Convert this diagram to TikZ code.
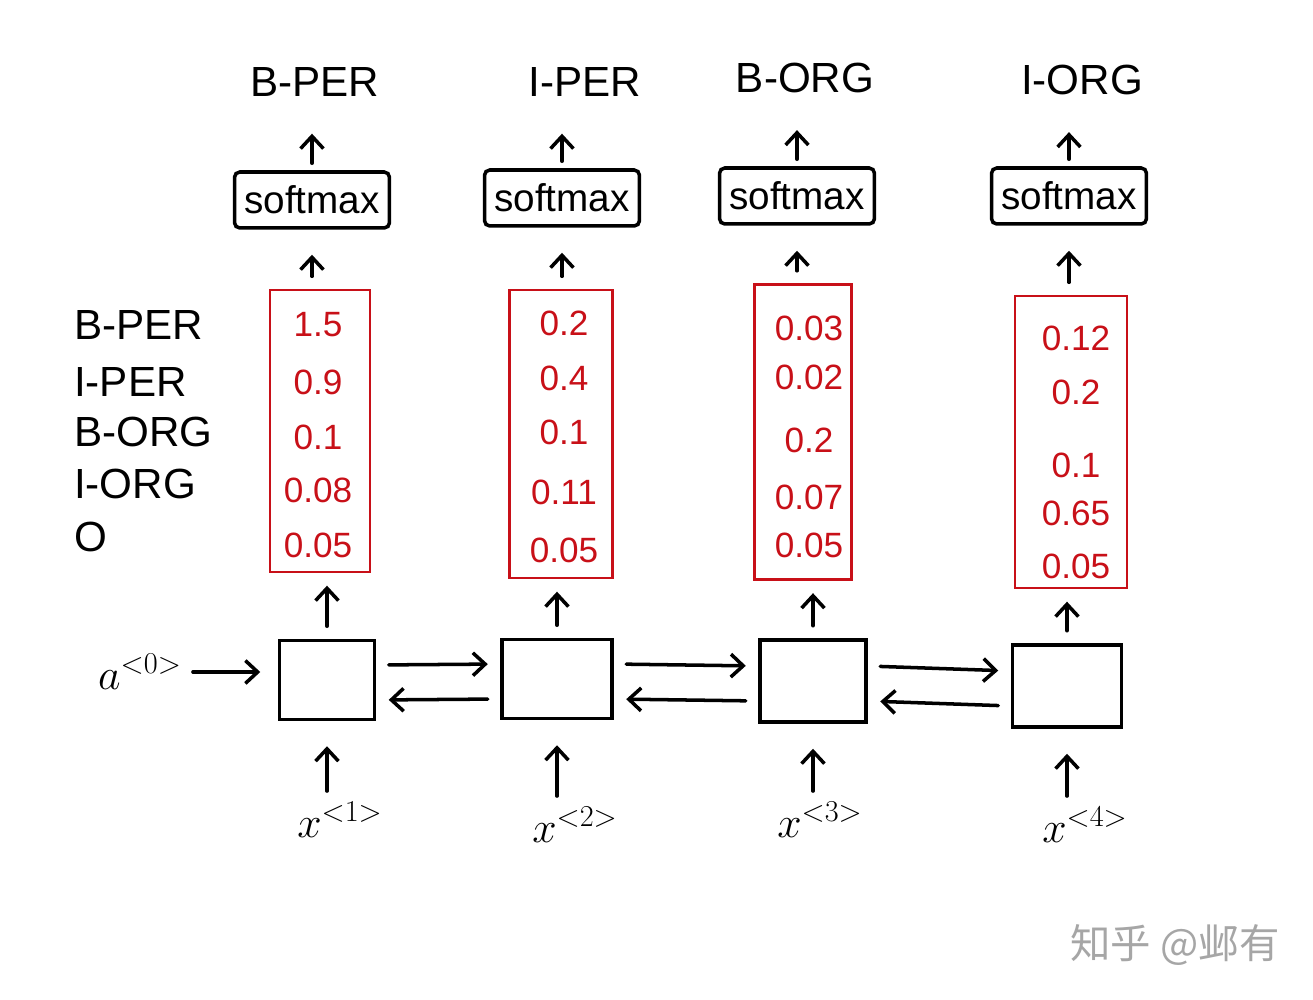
\documentclass[tikz,border=0pt]{standalone}
\usepackage{fontspec}
\setmainfont{Liberation Sans}
\newfontfamily\cjk{Noto Sans CJK SC}
\usetikzlibrary{arrows.meta}

\definecolor{scorered}{RGB}{200,16,24}

\tikzset{
    hand/.style={line width=2pt, line cap=round},
    >={Straight Barb[length=7pt,width=13pt]},
    tag/.style={font=\fontsize{24}{26}\selectfont},
    softbox/.style={draw, hand, rounded corners=3pt, minimum width=3.1cm,
        minimum height=1.12cm, font=\fontsize{22}{24}\selectfont},
    scorebox/.style={draw=scorered, line width=1.4pt, line cap=round},
    score/.style={text=scorered, font=\fontsize{20}{22}\selectfont},
    cellbox/.style={draw, hand, minimum height=1.58cm},
    flow/.style={->, hand, shorten <=0.25cm, shorten >=0.25cm},
}

\begin{document}
\begin{tikzpicture}[x=0.02cm, y=-0.02cm]

    \useasboundingbox (0,0) rectangle (1313,1000);

    % Output tags
    \node[tag] (tag1) at (315,82) {B-PER};
    \node[tag] (tag2) at (585,82) {I-PER};
    \node[tag] (tag3) at (805,78) {B-ORG};
    \node[tag] (tag4) at (1082,80) {I-ORG};

    % Softmax layers
    \node[softbox] (soft1) at (312,200) {softmax};
    \node[softbox] (soft2) at (562,198) {softmax};
    \node[softbox] (soft3) at (797,196) {softmax};
    \node[softbox] (soft4) at (1069,196) {softmax};

    % Score columns
    \node[scorebox, minimum width=2.0cm, minimum height=5.64cm] (score1) at (320,431) {};
    \node[scorebox, minimum width=2.06cm, minimum height=5.76cm] (score2) at (561,434) {};
    \node[scorebox, minimum width=1.94cm, minimum height=5.9cm] (score3) at (803,432) {};
    \node[scorebox, minimum width=2.24cm, minimum height=5.84cm] (score4) at (1071,442) {};

    \foreach \v/\y [count=\i] in {1.5/325, 0.9/382, 0.1/437, 0.08/490, 0.05/545}
        \node[score] (v1\i) at (318,\y) {\v};
    \foreach \v/\y [count=\i] in {0.2/323, 0.4/378, 0.1/432, 0.11/492, 0.05/550}
        \node[score] (v2\i) at (564,\y) {\v};
    \foreach \v/\y [count=\i] in {0.03/328, 0.02/377, 0.2/440, 0.07/497, 0.05/545}
        \node[score] (v3\i) at (809,\y) {\v};
    \foreach \v/\y [count=\i] in {0.12/338, 0.2/392, 0.1/465, 0.65/513, 0.05/566}
        \node[score] (v4\i) at (1076,\y) {\v};

    % Tag names
    \foreach \t/\y [count=\i] in {B-PER/325, I-PER/382, B-ORG/432, I-ORG/484, O/537}
        \node[tag, anchor=west] (name\i) at (68,\y) {\t};

    % RNN cells
    \node[cellbox, minimum width=1.9cm] (cell1) at (327,680) {};
    \node[cellbox, minimum width=2.2cm] (cell2) at (557,679) {};
    \node[cellbox, minimum width=2.12cm, minimum height=1.64cm] (cell3) at (813,681) {};
    \node[cellbox, minimum width=2.18cm, minimum height=1.64cm] (cell4) at (1067,686) {};

    % Inputs
    \node[tag] (a0) at (140,672) {$a^{<0>}$};
    \node[tag] (in1) at (340,820) {$x^{<1>}$};
    \node[tag] (in2) at (575,825) {$x^{<2>}$};
    \node[tag] (in3) at (820,820) {$x^{<3>}$};
    \node[tag] (in4) at (1085,825) {$x^{<4>}$};

    % Vertical arrows
    \foreach \i in {1,2,3,4} {
        \draw[flow, shorten <=0.14cm, shorten >=0.62cm] (soft\i.north) -- (soft\i.north |- tag\i.south);
        \draw[flow, shorten >=0.5cm] (soft\i.south |- score\i.north) -- (soft\i.south);
        \draw[flow] (cell\i.north) -- (cell\i.north |- score\i.south);
        \draw[flow, shorten <=0.1cm, shorten >=0.5cm] (cell\i.south |- in\i.north) -- (cell\i.south);
    }

    % Horizontal arrows
    \draw[flow, shorten <=0.1cm, shorten >=0.35cm] (a0) -- (a0 -| cell1.west);
    \foreach \i/\j in {1/2, 2/3, 3/4} {
        \draw[flow] ([yshift=0.3cm]cell\i.east) -- ([yshift=0.3cm]cell\j.west);
        \draw[flow] ([yshift=-0.4cm]cell\j.west) -- ([yshift=-0.4cm]cell\i.east);
    }

    % Watermark
    \node[text=black!35, font=\cjk\fontsize{23}{25}\selectfont] (mark) at (1175,945) {知乎 @邺有};

\end{tikzpicture}
\end{document}
